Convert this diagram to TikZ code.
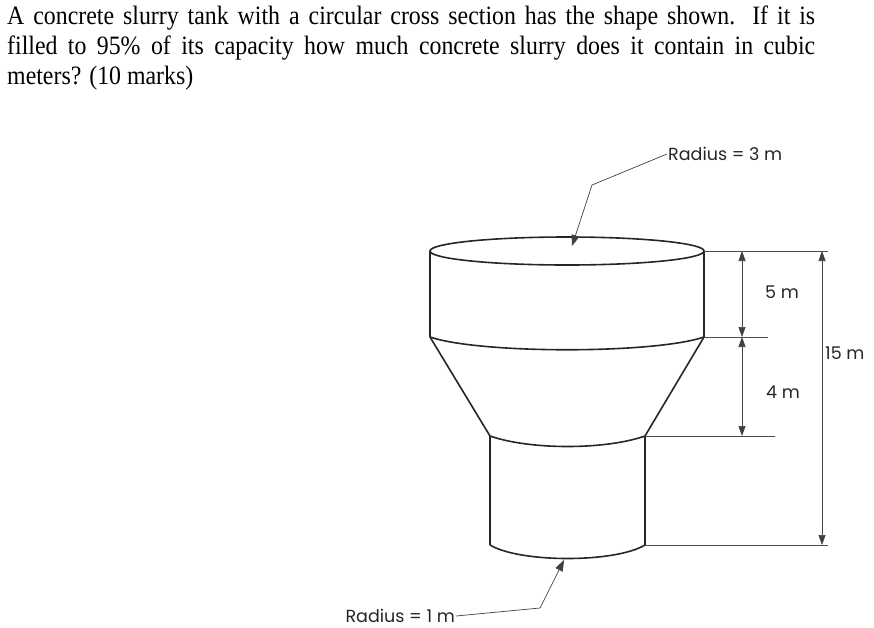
\documentclass[tikz,border=0pt]{standalone}
\usepackage{fontspec}
\setmainfont{Liberation Serif}[FakeStretch=0.9]
\newfontfamily\lab{Poppins}
\usetikzlibrary{arrows.meta}
\begin{document}
\begin{tikzpicture}[x=1pt,y=-1pt,
  body/.style={line width=1.6pt,black!85},
  dim/.style={line width=0.7pt,black!70},
  arr/.style={-{Triangle[length=11pt,width=8pt]},black!75},
  darr/.style={{Triangle[length=10pt,width=7pt]}-{Triangle[length=10pt,width=7pt]},black!75,line width=0.7pt},
  lbl/.style={font=\lab\fontsize{17.5}{20}\selectfont,inner sep=1pt,text=black!85},
  ttl/.style={anchor=base west,inner sep=0pt,font=\fontsize{26.5}{30}\selectfont}]
\useasboundingbox (0,0) rectangle (874,627);
\node[ttl] (t1l) at (7,24) {\makebox[808pt][s]{A concrete slurry tank with a circular cross section has the shape shown. If it is}};
\node[ttl] (t2l) at (7,54) {\makebox[808pt][s]{filled to 95\% of its capacity how much concrete slurry does it contain in cubic}};
\node[ttl] (t3l) at (7,84) {meters? (10 marks)};
% body
\draw[body] (567,251) ellipse [x radius=137,y radius=14];
\draw[body] (430,251) -- (430,337) (704,251) -- (704,337);
\draw[body] (430,337) .. controls (480,354) and (654,354) .. (704,337);
\draw[body] (430,337) -- (490,436) (704,337) -- (645,436);
\draw[body] (490,436) .. controls (530,450) and (605,450) .. (645,436);
\draw[body] (490,436) -- (490,545) (645,436) -- (645,545);
\draw[body] (490,545) .. controls (520,563) and (615,563) .. (645,545);
% dimension extension lines
\coordinate (e1a) at (704,251); \coordinate (e1b) at (828,251);
\coordinate (e2a) at (704,337); \coordinate (e2b) at (768,337);
\coordinate (e3a) at (645,436); \coordinate (e3b) at (775,436);
\coordinate (e4a) at (645,545); \coordinate (e4b) at (828,545);
\draw[dim] (e1a) -- (e1b) (e2a) -- (e2b) (e3a) -- (e3b) (e4a) -- (e4b);
\coordinate (d1) at (742,251); \coordinate (d2) at (742,337); \coordinate (d3) at (742,436);
\coordinate (t1) at (822,251); \coordinate (t2) at (822,545);
\draw[darr] (d1) -- (d2);
\draw[darr] (d2) -- (d3);
\draw[darr] (t1) -- (t2);
\node[lbl] (h5) at (782,292) {5 m};
\node[lbl] (h4) at (783,392) {4 m};
\node[lbl,anchor=west] (h15) at (824,353) {15 m};
% radius labels
\node[lbl,anchor=west] (r3) at (667,154) {Radius = 3 m};
\coordinate (r3k) at (592,185); \coordinate (r3t) at (572,246);
\draw[arr,line width=0.7pt] (r3.west) -- (r3k) -- (r3t);
\node[lbl,anchor=east] (r1) at (456,616) {Radius = 1 m};
\coordinate (r1k) at (540,608); \coordinate (r1t) at (564,560);
\draw[arr,line width=0.7pt] (r1.east) -- (r1k) -- (r1t);
\end{tikzpicture}
\end{document}
